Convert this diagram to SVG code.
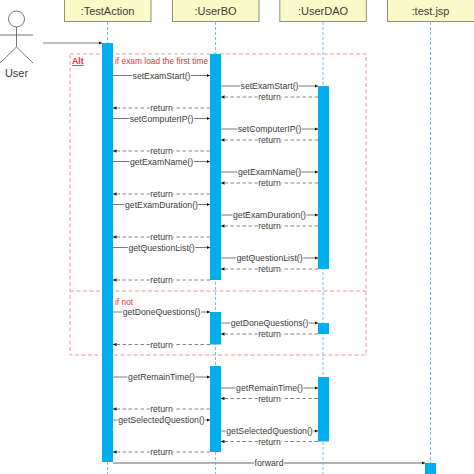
<svg xmlns="http://www.w3.org/2000/svg" width="474" height="474" viewBox="0 0 474 474">
<style>
text{font-family:"Liberation Sans",Arial,sans-serif}
.box{fill:#fafac8;stroke:#8f8f7a;stroke-width:1}
.name{font-size:11px;fill:#3c3c3c;text-anchor:middle}
.life{stroke:#7dbde0;stroke-width:1;stroke-dasharray:3 2;fill:none}
.bar{fill:#00adef}
.frame{fill:none;stroke:#f0929a;stroke-width:1;stroke-dasharray:4 2.5}
.call{stroke:#555;stroke-width:.8;fill:none;marker-end:url(#a)}
.ret{stroke:#666;stroke-width:.8;fill:none;stroke-dasharray:3.5 2.5;marker-end:url(#a)}
.lbl{font-size:8.7px;fill:#3c3c3c;text-anchor:middle;paint-order:stroke;stroke:#fff;stroke-width:2px}
.red{font-size:8.4px;fill:#e8303a}
.actor{fill:none;stroke:#666;stroke-width:.9}
</style>
<defs><marker id="a" markerWidth="4" markerHeight="4" refX="3.5" refY="2" orient="auto" markerUnits="userSpaceOnUse"><path d="M0 .3L3.5 2L0 3.700Z" fill="#111"/></marker></defs>
<rect width="474" height="474" fill="#fff"/>
<g id="frame">
<rect class="frame" x="70" y="54" width="296" height="301"/>
<line class="frame" x1="70" y1="291" x2="366" y2="291"/>
<text x="72" y="64" font-size="8.800" font-weight="bold" fill="#e8303a" text-decoration="underline">Alt</text>
<text class="red" x="115" y="64">if exam load the first time</text>
<text class="red" x="115" y="305">if not</text>
</g>
<g id="user">
<circle class="actor" cx="16.5" cy="19" r="8"/>
<path class="actor" d="M16.5 27V47M0 35H33M0 63L16.5 47L33 63"/>
<text x="16.5" y="77" font-size="11" fill="#3c3c3c" text-anchor="middle">User</text>
</g>
<g id="testaction">
<line class="life" x1="107.5" y1="22" x2="107.5" y2="474"/>
<rect class="box" x="64.5" y="-2" width="86.500" height="23.500"/>
<text class="name" x="107.5" y="14.500">:TestAction</text>
<rect class="bar" x="102" y="43" width="11" height="419"/>
</g>
<g id="userbo">
<line class="life" x1="215.5" y1="22" x2="215.5" y2="474"/>
<rect class="box" x="172.500" y="-2" width="86.500" height="23.500"/>
<text class="name" x="215.5" y="14.500">:UserBO</text>
<rect class="bar" x="210" y="54" width="11" height="226"/>
<rect class="bar" x="210" y="312" width="11" height="32.500"/>
<rect class="bar" x="210" y="366" width="11" height="86"/>
</g>
<g id="userdao">
<line class="life" x1="323" y1="22" x2="323" y2="474"/>
<rect class="box" x="279.800" y="-2" width="86.500" height="23.500"/>
<text class="name" x="323" y="14.500">:UserDAO</text>
<rect class="bar" x="318" y="86" width="11" height="183"/>
<rect class="bar" x="318" y="323" width="11" height="11"/>
<rect class="bar" x="318" y="377" width="11" height="64.500"/>
</g>
<g id="testjsp">
<line class="life" x1="430.500" y1="22" x2="430.500" y2="474"/>
<rect class="box" x="387.500" y="-2" width="87" height="23.500"/>
<text class="name" x="430.500" y="14.500">:test.jsp</text>
<rect class="bar" x="425" y="463" width="11" height="11"/>
</g>
<g id="connectors">
<line class="call" x1="43" y1="43" x2="102" y2="43"/>
<line class="call" x1="113" y1="75.500" x2="210" y2="75.500"/><text class="lbl" x="161.500" y="78.500">setExamStart()</text>
<line class="call" x1="221" y1="86" x2="318" y2="86"/><text class="lbl" x="269.500" y="89">setExamStart()</text>
<line class="ret" x1="318" y1="97" x2="221" y2="97"/><text class="lbl" x="269.500" y="100">return</text>
<line class="ret" x1="210" y1="108" x2="113" y2="108"/><text class="lbl" x="161.500" y="111">return</text>
<line class="call" x1="113" y1="118.500" x2="210" y2="118.500"/><text class="lbl" x="161.500" y="121.500">setComputerIP()</text>
<line class="call" x1="221" y1="129" x2="318" y2="129"/><text class="lbl" x="269.500" y="132">setComputerIP()</text>
<line class="ret" x1="318" y1="140" x2="221" y2="140"/><text class="lbl" x="269.500" y="143">return</text>
<line class="ret" x1="210" y1="151" x2="113" y2="151"/><text class="lbl" x="161.500" y="154">return</text>
<line class="call" x1="113" y1="161.500" x2="210" y2="161.500"/><text class="lbl" x="161.500" y="164.500">getExamName()</text>
<line class="call" x1="221" y1="172" x2="318" y2="172"/><text class="lbl" x="269.500" y="175">getExamName()</text>
<line class="ret" x1="318" y1="183" x2="221" y2="183"/><text class="lbl" x="269.500" y="186">return</text>
<line class="ret" x1="210" y1="194" x2="113" y2="194"/><text class="lbl" x="161.500" y="197">return</text>
<line class="call" x1="113" y1="204.500" x2="210" y2="204.500"/><text class="lbl" x="161.500" y="207.500">getExamDuration()</text>
<line class="call" x1="221" y1="215" x2="318" y2="215"/><text class="lbl" x="269.500" y="218">getExamDuration()</text>
<line class="ret" x1="318" y1="226" x2="221" y2="226"/><text class="lbl" x="269.500" y="229">return</text>
<line class="ret" x1="210" y1="237" x2="113" y2="237"/><text class="lbl" x="161.500" y="240">return</text>
<line class="call" x1="113" y1="247.500" x2="210" y2="247.500"/><text class="lbl" x="161.500" y="250.500">getQuestionList()</text>
<line class="call" x1="221" y1="258" x2="318" y2="258"/><text class="lbl" x="269.500" y="261">getQuestionList()</text>
<line class="ret" x1="318" y1="269" x2="221" y2="269"/><text class="lbl" x="269.500" y="272">return</text>
<line class="ret" x1="210" y1="280" x2="113" y2="280"/><text class="lbl" x="161.500" y="283">return</text>
<line class="call" x1="113" y1="312" x2="210" y2="312"/><text class="lbl" x="161.500" y="315">getDoneQuestions()</text>
<line class="call" x1="221" y1="323" x2="318" y2="323"/><text class="lbl" x="269.500" y="326">getDoneQuestions()</text>
<line class="ret" x1="318" y1="334" x2="221" y2="334"/><text class="lbl" x="269.500" y="337">return</text>
<line class="ret" x1="210" y1="344.500" x2="113" y2="344.500"/><text class="lbl" x="161.500" y="347.500">return</text>
<line class="call" x1="113" y1="377" x2="210" y2="377"/><text class="lbl" x="161.500" y="380">getRemainTime()</text>
<line class="call" x1="221" y1="388" x2="318" y2="388"/><text class="lbl" x="269.500" y="391">getRemainTime()</text>
<line class="ret" x1="318" y1="398.500" x2="221" y2="398.500"/><text class="lbl" x="269.500" y="401.500">return</text>
<line class="ret" x1="210" y1="409" x2="113" y2="409"/><text class="lbl" x="161.500" y="412">return</text>
<line class="call" x1="113" y1="420" x2="210" y2="420"/><text class="lbl" x="161.500" y="423">getSelectedQuestion()</text>
<line class="call" x1="221" y1="431" x2="318" y2="431"/><text class="lbl" x="269.500" y="434">getSelectedQuestion()</text>
<line class="ret" x1="318" y1="441.500" x2="221" y2="441.500"/><text class="lbl" x="269.500" y="444.500">return</text>
<line class="ret" x1="210" y1="452" x2="113" y2="452"/><text class="lbl" x="161.500" y="455">return</text>
<line x1="113" y1="463" x2="425" y2="463" stroke="#999" stroke-width="1.600" marker-end="url(#a)"/><text class="lbl" x="269" y="466">forward</text>
</g>
</svg>
